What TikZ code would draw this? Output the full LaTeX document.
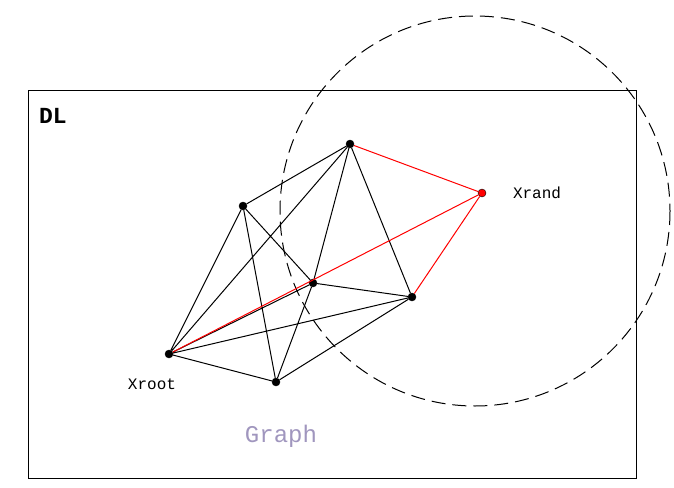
\documentclass[tikz,border=0pt]{standalone}
\usepackage{fontspec}
\setmonofont{Liberation Mono}
\begin{document}
\begin{tikzpicture}[x=1pt,y=-1pt,
  dot/.style={circle,fill=black,draw=black,inner sep=0pt,minimum size=8pt},
  edge/.style={black,line width=1pt},
  redge/.style={red,line width=1pt},
  lbl/.style={font=\ttfamily\fontsize{16}{18}\selectfont}]
\useasboundingbox (0,0) rectangle (674,487);
\draw[line width=1pt] (28,90) rectangle (636,478);
\draw[line width=1pt,dash pattern=on 14pt off 7pt] (475,211) circle (195);
\node[font=\ttfamily\bfseries\fontsize{23}{26}\selectfont] (dl) at (53,116) {DL};
\node[dot] (A) at (350,144) {};
\node[dot] (B) at (243,206) {};
\node[dot] (C) at (313,283) {};
\node[dot] (D) at (412,297) {};
\node[dot] (R) at (169,354) {};
\node[dot] (E) at (276,382) {};
\node[dot,fill=red] (X) at (482,193) {};
\draw[edge] (A)--(B) (A)--(R) (A)--(C) (A)--(D)
  (B)--(R) (B)--(C) (B)--(E) (C)--(D) (C)--(E) (R)--(C) (R)--(D) (R)--(E) (E)--(D);
\draw[redge] (A)--(X) (X)--(D) (R)--(X);
\node[lbl] (xr) at (537,193) {Xrand};
\node[lbl] (xo) at (152,384) {Xroot};
\node[font=\ttfamily\fontsize{24}{28}\selectfont,text={rgb,255:red,160;green,150;blue,190}] (g) at (281,436) {Graph};
\end{tikzpicture}
\end{document}
